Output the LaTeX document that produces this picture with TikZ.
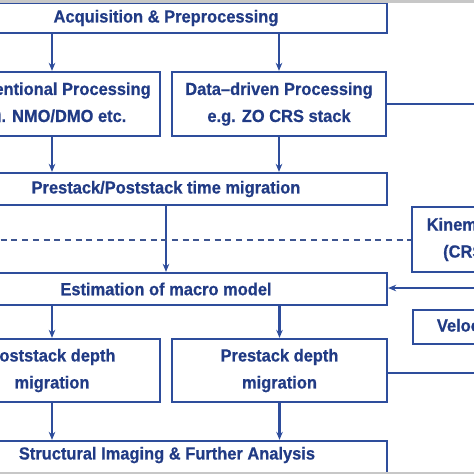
\documentclass[tikz,border=0pt]{standalone}
\usepackage{fontspec}
\setmainfont{Liberation Sans}[FakeStretch=0.94, BoldFeatures={FakeBold=0.6}]
\usetikzlibrary{arrows.meta}
\definecolor{lineblue}{HTML}{2E4D9C}
\definecolor{textblue}{HTML}{213B85}
\definecolor{dashblue}{HTML}{3E5590}
\tikzset{
  box/.style={draw=lineblue, line width=2.3pt, rectangle, inner sep=0pt,
    text=textblue, font=\fontsize{17.5}{27}\selectfont\bfseries, align=center},
  txt/.style={text=textblue, font=\fontsize{17.5}{27}\selectfont\bfseries, align=center, inner sep=0pt},
  conn/.style={draw=lineblue, line width=2.1pt},
  arr/.style={conn, -{Stealth[length=8pt,width=6.5pt]}},
}
\begin{document}
\begin{tikzpicture}[x=1pt,y=-1pt]
\useasboundingbox (0,0) rectangle (474,474);
\clip (0,0) rectangle (474,474);
\fill[white] (0,0) rectangle (474,474);
% boxes
\node[box, minimum width=442, minimum height=30] (acq) at (166,18) {Acquisition \& Preprocessing};
\node[box, minimum width=216, minimum height=64] (conv) at (52,104) {Conventional Processing\\e.g. NMO/DMO etc.};
\node[box, minimum width=214, minimum height=64] (data) at (279,104) {Data--driven Processing\\e.g. ZO CRS stack};
\node[box, minimum width=442, minimum height=32] (ptm) at (166,189) {Prestack/Poststack time migration};
\node[box, minimum width=108, minimum height=65] (kin) at (466,239.5) {Kinematic\\(CRS)};
\node[box, minimum width=442, minimum height=32] (est) at (166,289) {Estimation of macro model};
\node[box, minimum width=110, minimum height=34] (vel) at (468,327) {Velocity};
\node[box, minimum width=216, minimum height=63] (post) at (52,370.5) {Poststack depth\\migration};
\node[box, minimum width=215, minimum height=63] (pre) at (279.5,370.5) {Prestack depth\\migration};
\node[box, minimum width=442, minimum height=49] (struct) at (166,465.5) {};
\node[txt] (structtxt) at (167,455) {Structural Imaging \& Further Analysis};
% free ends
\coordinate (r1) at (480,104);
\coordinate (r2) at (480,288);
\coordinate (r3) at (480,373);
\coordinate (l1) at (-10,239.5);
% connectors
\draw[arr] (conv.north |- acq.south) -- (conv.north);
\draw[arr] (data.north |- acq.south) -- (data.north);
\draw[arr] (conv.south) -- (conv.south |- ptm.north);
\draw[arr] (data.south) -- (data.south |- ptm.north);
\draw[arr] (ptm.south) -- (est.north);
\draw[arr] (post.north |- est.south) -- (post.north);
\draw[arr] (pre.north |- est.south) -- (pre.north);
\draw[arr] (post.south) -- (post.south |- struct.north);
\draw[arr] (pre.south) -- (pre.south |- struct.north);
\draw[conn] (data.east) -- (data.east -| r1);
\draw[arr] (r2) -- (r2 -| est.east);
\draw[conn] (pre.east |- r3) -- (r3);
\draw[draw=dashblue, line width=2pt, dash pattern=on 6pt off 4.7pt] (l1) -- (kin.west);
% scan bands
\fill[black!22] (0,0) rectangle (474,2.5);
\fill[black!22] (0,471.5) rectangle (474,474);
\end{tikzpicture}
\end{document}
